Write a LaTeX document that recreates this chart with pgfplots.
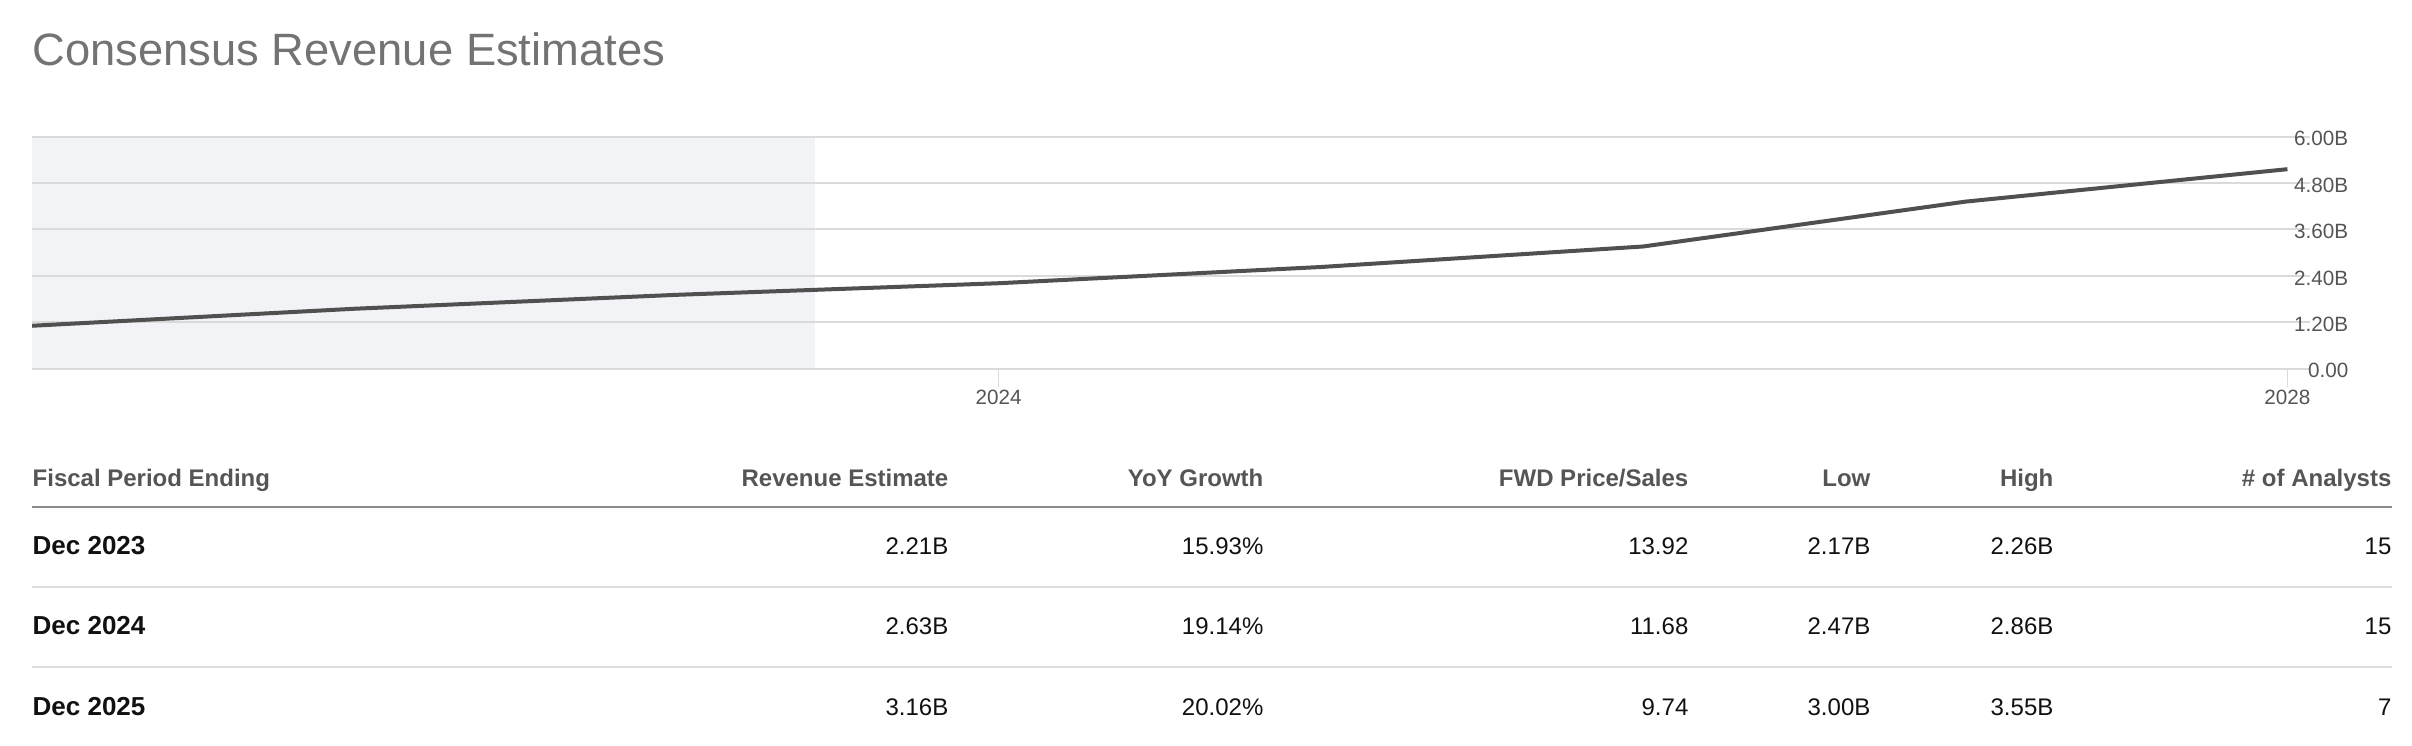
\documentclass[border=0pt]{standalone}
\usepackage{fontspec}
\setmainfont{Liberation Sans}
\usepackage{pgfplots}
\pgfplotsset{compat=1.18}

\definecolor{titlegray}{HTML}{737373}
\definecolor{labgray}{HTML}{555555}
\definecolor{gridgray}{HTML}{DADADA}
\definecolor{shade}{HTML}{F2F3F7}
\definecolor{linegray}{HTML}{505050}
\definecolor{rulegray}{HTML}{8A8D90}
\definecolor{sepgray}{HTML}{DDDDDD}
\definecolor{ink}{HTML}{111111}

\newcommand\fs[1]{\fontsize{#1}{#1}\selectfont}

% one table row: baseline y, then the seven cells
\newcommand\trow[8]{%
  \node[anchor=base west] at (32,#1) {\fs{7.8pt}\bfseries #2};
  \node[anchor=base east] at (949,#1) {#3};
  \node[anchor=base east] at (1264,#1) {#4};
  \node[anchor=base east] at (1689,#1) {#5};
  \node[anchor=base east] at (1871,#1) {#6};
  \node[anchor=base east] at (2054,#1) {#7};
  \node[anchor=base east] at (2392,#1) {#8};
}

\begin{document}
\begin{tikzpicture}
\path (0,0) rectangle (723.6pt,-223.8pt);

\begin{axis}[
  at={(9.6pt,-110.61pt)}, anchor=south west,
  scale only axis, width=683.4pt, height=69.6pt,
  xmin=2021, xmax=2028.07, ymin=0, ymax=6,
  set layers,
  axis line style={draw=none},
  xtick={2024,2028}, xticklabels={2024,2028},
  xtick pos=bottom, tick align=outside, major tick length=5.4pt,
  xtick style={gridgray, line width=0.4pt},
  ytick={0,1.2,2.4,3.6,4.8,6},
  yticklabels={0.00,1.20B,2.40B,3.60B,4.80B,6.00B},
  ytick pos=right, yticklabel pos=right,
  ytick style={draw=none},
  ymajorgrids, grid style={gridgray, line width=0.6pt},
  ticklabel style={font=\fs{6.2pt}, text=labgray, inner sep=0pt},
  xticklabel style={anchor=north, yshift=-0.9pt},
  yticklabel style={anchor=east, xshift=6.3pt, yshift=-0.6pt},
]
% shaded band = reported period
\addplot[fill=shade, draw=none, on layer=axis background]
  coordinates {(2021,0) (2021,6) (2023.43,6) (2023.43,0)} -- cycle;
% revenue (B), value at each fiscal year end (Dec 2020 ... Dec 2027)
\addplot[linegray, line width=1.2pt, line join=round]
  coordinates {(2021,1.11) (2022,1.55) (2023,1.91) (2024,2.21)
               (2025,2.63) (2026,3.16) (2027,4.32) (2028,5.16)};
\end{axis}

\begin{scope}[x=0.3pt,y=-0.3pt, every node/.style={inner sep=0pt, text=ink, font=\fs{7.2pt}}]
\node[anchor=base west, text=titlegray] at (32,66) {\fs{13.6pt}Consensus Revenue Estimates};

\begin{scope}[every node/.append style={text=labgray, font=\fs{7.2pt}\bfseries}]
\node[anchor=base west] at (32,486.7) {Fiscal Period Ending};
\node[anchor=base east] at (949,486.7) {Revenue Estimate};
\node[anchor=base east] at (1264,486.7) {YoY Growth};
\node[anchor=base east] at (1689,486.7) {FWD Price/Sales};
\node[anchor=base east] at (1871,486.7) {Low};
\node[anchor=base east] at (2054,486.7) {High};
\node[anchor=base east] at (2392,486.7) {\# of Analysts};
\end{scope}

\draw[rulegray, line width=0.55pt] (32,506.7) -- (2392,506.7);
\draw[sepgray, line width=0.5pt] (32,586.7) -- (2392,586.7);
\draw[sepgray, line width=0.5pt] (32,666.7) -- (2392,666.7);

\trow{555}{Dec 2023}{2.21B}{15.93\%}{13.92}{2.17B}{2.26B}{15}
\trow{635}{Dec 2024}{2.63B}{19.14\%}{11.68}{2.47B}{2.86B}{15}
\trow{715}{Dec 2025}{3.16B}{20.02\%}{9.74}{3.00B}{3.55B}{7}
\end{scope}
\end{tikzpicture}
\end{document}
